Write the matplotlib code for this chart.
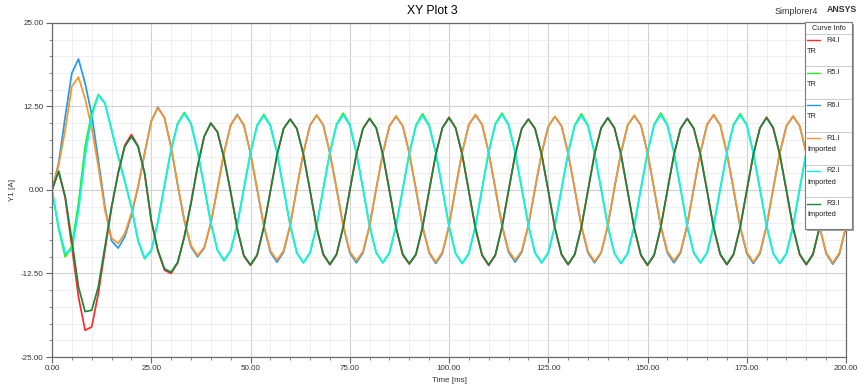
import numpy as np
import matplotlib.pyplot as plt
from matplotlib.patches import Rectangle
from matplotlib.lines import Line2D
from matplotlib.ticker import MultipleLocator, FormatStrFormatter

plt.rcParams['font.family'] = ['Liberation Sans', 'DejaVu Sans']

# sample times (ms), one sample every 1/12 of a 20 ms period
time_ms = np.linspace(0, 200, 121)

# TR results
r4_tr = [0, 2.8, -1.2, -8.5, -16.0, -21.0, -20.5, -15.5, -9.0, -2.7, 2.6, 6.7, 8.3,
         6.6, 2.5, -4.6, -9.1, -12.0, -12.5, -10.9, -7.0, -2.0, 3.5, 8.0, 10.0,
         8.7, 4.8, -0.3, -5.8, -9.9, -11.3, -9.8, -5.6, -0.2, 5.2, 9.2, 10.6,
         9.2, 5.3, -0.1, -5.7, -9.7, -11.2, -9.7, -5.6, -0.1, 5.3, 9.2, 10.7,
         9.3, 5.3, -0.1, -5.7, -9.7, -11.1, -9.7, -5.6, -0.1, 5.3, 9.3, 10.9,
         9.3, 5.3, -0.2, -5.8, -9.8, -11.3, -9.8, -5.6, -0.1, 5.3, 9.2, 10.6,
         9.2, 5.3, -0.1, -5.7, -9.7, -11.2, -9.7, -5.6, -0.1, 5.4, 9.3, 10.8,
         9.3, 5.3, -0.2, -5.8, -9.8, -11.3, -9.8, -5.6, -0.1, 5.3, 9.2, 10.7,
         9.2, 5.3, -0.1, -5.7, -9.7, -11.2, -9.7, -5.6, -0.1, 5.3, 9.3, 10.9,
         9.3, 5.3, -0.1, -5.7, -9.7, -11.2, -9.7, -5.6, -0.1, 5.3, 9.2, 10.7]
r5_tr = [0, -5.8, -10.0, -8.4, -2.0, 6.5, 11.5, 14.3, 13.0, 9.0, 5.0, 1.3, -2.6,
         -7.6, -10.3, -9.1, -4.8, 0.7, 6.1, 10.0, 11.6, 10.0, 5.8, 0.5, -4.9,
         -9.0, -10.6, -9.1, -5.2, 0.2, 5.6, 9.7, 11.3, 9.7, 5.6, 0.2, -5.3,
         -9.4, -10.9, -9.4, -5.4, 0.2, 5.6, 9.8, 11.5, 9.8, 5.6, 0.2, -5.4,
         -9.4, -10.9, -9.4, -5.4, 0.1, 5.5, 9.7, 11.4, 9.7, 5.6, 0.2, -5.4,
         -9.5, -11.0, -9.5, -5.4, 0.2, 5.7, 9.9, 11.5, 9.8, 5.6, 0.2, -5.3,
         -9.4, -10.9, -9.4, -5.4, 0.1, 5.5, 9.7, 11.4, 9.7, 5.5, 0.1, -5.4,
         -9.5, -11.0, -9.5, -5.4, 0.2, 5.6, 9.8, 11.5, 9.8, 5.6, 0.2, -5.4,
         -9.4, -10.9, -9.4, -5.3, 0.2, 5.6, 9.8, 11.4, 9.8, 5.5, 0.1, -5.4,
         -9.5, -11.0, -9.5, -5.4, 0.2, 5.6, 9.8, 11.5, 9.8, 5.6, 0.2, -5.3]
r6_tr = [0, 4.0, 11.0, 17.5, 19.6, 16.0, 11.3, 4.5, -2.5, -7.6, -8.7, -7.0, -3.8,
         0.4, 5.5, 10.3, 12.4, 10.8, 6.4, 0.7, -4.6, -8.5, -10.0, -8.7, -5.0,
         0.2, 5.6, 9.7, 11.3, 9.7, 5.5, 0.1, -5.3, -9.3, -10.8, -9.3, -5.3,
         0.3, 5.6, 9.7, 11.2, 9.7, 5.5, 0.2, -5.3, -9.4, -10.9, -9.4, -5.4,
         0.2, 5.5, 9.6, 11.0, 9.6, 5.5, 0.1, -5.5, -9.4, -11.0, -9.5, -5.4,
         0.3, 5.7, 9.8, 11.2, 9.8, 5.6, 0.2, -5.3, -9.3, -10.8, -9.3, -5.3,
         0.2, 5.5, 9.5, 11.0, 9.6, 5.5, 0.1, -5.4, -9.4, -10.9, -9.4, -5.4,
         0.3, 5.6, 9.7, 11.1, 9.7, 5.6, 0.1, -5.4, -9.4, -10.9, -9.4, -5.3,
         0.3, 5.6, 9.8, 11.2, 9.7, 5.5, 0.1, -5.5, -9.5, -11.0, -9.5, -5.4,
         0.2, 5.6, 9.6, 11.0, 9.6, 5.5, 0.1, -5.5, -9.5, -11.1, -9.6, -5.5]

# Imported results
r1_imp = [0, 3.7, 9.0, 15.5, 16.9, 13.7, 9.3, 3.5, -3.0, -7.2, -8.0, -6.5, -3.5,
          0.5, 5.5, 10.3, 12.3, 10.8, 6.5, 0.8, -4.5, -8.3, -9.8, -8.6, -4.9,
          0.2, 5.6, 9.7, 11.2, 9.7, 5.5, 0.2, -5.2, -9.1, -10.5, -9.1, -5.2,
          0.3, 5.6, 9.7, 11.2, 9.7, 5.6, 0.3, -5.2, -9.2, -10.6, -9.2, -5.3,
          0.2, 5.5, 9.6, 11.1, 9.6, 5.5, 0.2, -5.4, -9.3, -10.8, -9.3, -5.3,
          0.3, 5.7, 9.8, 11.3, 9.8, 5.6, 0.3, -5.2, -9.1, -10.5, -9.1, -5.2,
          0.2, 5.5, 9.5, 11.0, 9.6, 5.5, 0.2, -5.3, -9.2, -10.7, -9.3, -5.3,
          0.3, 5.6, 9.7, 11.2, 9.7, 5.6, 0.2, -5.3, -9.2, -10.6, -9.2, -5.2,
          0.3, 5.7, 9.8, 11.3, 9.7, 5.5, 0.2, -5.4, -9.3, -10.8, -9.3, -5.3,
          0.2, 5.6, 9.6, 11.1, 9.6, 5.5, 0.2, -5.4, -9.4, -10.9, -9.4, -5.4]
r2_imp = [0, -5.5, -9.4, -9.0, -3.2, 5.0, 11.0, 14.2, 13.0, 9.0, 5.0, 1.3, -2.5,
          -7.5, -10.2, -9.0, -4.8, 0.6, 6.0, 9.9, 11.4, 9.9, 5.8, 0.5, -4.9,
          -9.0, -10.5, -9.1, -5.2, 0.2, 5.6, 9.6, 11.1, 9.6, 5.6, 0.2, -5.3,
          -9.4, -10.9, -9.4, -5.4, 0.2, 5.6, 9.7, 11.2, 9.7, 5.6, 0.2, -5.4,
          -9.4, -10.9, -9.4, -5.4, 0.1, 5.5, 9.6, 11.1, 9.6, 5.6, 0.2, -5.4,
          -9.5, -11.0, -9.5, -5.4, 0.2, 5.7, 9.8, 11.3, 9.7, 5.6, 0.2, -5.3,
          -9.4, -10.9, -9.4, -5.4, 0.1, 5.5, 9.6, 11.1, 9.6, 5.5, 0.1, -5.4,
          -9.5, -11.0, -9.5, -5.4, 0.2, 5.6, 9.7, 11.2, 9.7, 5.6, 0.2, -5.4,
          -9.4, -10.9, -9.4, -5.3, 0.2, 5.6, 9.7, 11.2, 9.7, 5.5, 0.1, -5.4,
          -9.5, -11.0, -9.5, -5.4, 0.2, 5.6, 9.7, 11.2, 9.7, 5.6, 0.2, -5.3]
r3_imp = [0, 2.8, -1.0, -7.5, -14.5, -18.2, -18.0, -14.5, -8.5, -2.5, 2.5, 6.5, 8.0,
          6.5, 2.5, -4.5, -9.0, -11.8, -12.3, -10.8, -7.0, -2.0, 3.5, 8.0, 10.0,
          8.7, 4.8, -0.3, -5.8, -9.8, -11.2, -9.7, -5.6, -0.2, 5.2, 9.2, 10.6,
          9.2, 5.3, -0.1, -5.6, -9.6, -11.1, -9.6, -5.6, -0.1, 5.3, 9.2, 10.7,
          9.3, 5.3, -0.1, -5.6, -9.6, -11.0, -9.6, -5.6, -0.1, 5.3, 9.3, 10.8,
          9.3, 5.3, -0.2, -5.7, -9.7, -11.2, -9.7, -5.6, -0.1, 5.3, 9.2, 10.6,
          9.2, 5.3, -0.1, -5.6, -9.6, -11.1, -9.6, -5.6, -0.1, 5.4, 9.3, 10.8,
          9.3, 5.3, -0.2, -5.7, -9.7, -11.2, -9.7, -5.6, -0.1, 5.3, 9.2, 10.7,
          9.2, 5.3, -0.1, -5.6, -9.6, -11.1, -9.6, -5.6, -0.1, 5.3, 9.3, 10.8,
          9.3, 5.3, -0.1, -5.6, -9.6, -11.1, -9.6, -5.6, -0.1, 5.3, 9.2, 10.7]

curves = [
    ("R4.I", "TR", r4_tr, "#ff2a2a"),
    ("R5.I", "TR", r5_tr, "#22f022"),
    ("R6.I", "TR", r6_tr, "#1e9bef"),
    ("R1.I", "Imported", r1_imp, "#ff9326"),
    ("R2.I", "Imported", r2_imp, "#12f0f0"),
    ("R3.I", "Imported", r3_imp, "#17873a"),
]

W, H = 865, 389
fig = plt.figure(figsize=(W / 100, H / 100), dpi=100)
ax = fig.add_axes([52 / W, 1 - 357 / H, 794 / W, 334 / H])

for name, src, vals, col in curves:
    ax.plot(time_ms, vals, color=col, lw=1.25)

ax.set_xlim(0, 200)
ax.set_ylim(-25, 25)
ax.xaxis.set_major_locator(MultipleLocator(25))
ax.xaxis.set_minor_locator(MultipleLocator(5))
ax.yaxis.set_major_locator(MultipleLocator(12.5))
ax.yaxis.set_minor_locator(MultipleLocator(2.5))
ax.xaxis.set_major_formatter(FormatStrFormatter('%.2f'))
ax.yaxis.set_major_formatter(FormatStrFormatter('%.2f'))
ax.grid(which='major', color='#d2d2d2', lw=0.8)
ax.grid(which='minor', color='#ececec', lw=0.6)
ax.set_axisbelow(True)
ax.tick_params(which='major', direction='out', length=4, color='#666666',
               labelsize=5.8, labelcolor='#333333', pad=2)
ax.tick_params(which='minor', direction='out', length=2.5, color='#777777')
for s in ax.spines.values():
    s.set_color('#6a6a6a')
    s.set_linewidth(0.9)

fig.text(432 / W, 1 - 11 / H, "XY Plot 3", ha='center', va='center', fontsize=8.8)
fig.text(818 / W, 1 - 11 / H, "Simplorer4", ha='right', va='center', fontsize=6.4, color='#333333')
fig.text(827 / W, 1 - 10 / H, "ANSYS", ha='left', va='center', fontsize=6.3,
         fontweight='bold', color='#333333')
fig.text(449 / W, 1 - 380 / H, "Time [ms]", ha='center', va='center', fontsize=5.8, color='#333333')
fig.text(13 / W, 1 - 190 / H, "Y1 [A]", ha='center', va='center', rotation=90,
         fontsize=5.8, color='#333333')

# curve info box
def fp(x, y):
    return (x / W, 1 - y / H)

fig.add_artist(Rectangle(fp(807, 231), 47 / W, 207 / H, transform=fig.transFigure,
                         facecolor='#a0a0a0', edgecolor='none', zorder=10))
fig.add_artist(Rectangle(fp(805, 229), 47 / W, 207 / H, transform=fig.transFigure,
                         facecolor='white', edgecolor='#7a7a7a', lw=0.8, zorder=11))
fig.text(828.5 / W, 1 - 28.5 / H, "Curve Info", ha='center', va='center',
         fontsize=5.3, color='#222222', zorder=12)
for sy in [33.5, 66, 99, 132, 164.5, 197]:
    fig.add_artist(Line2D([806 / W, 851 / W], [1 - sy / H, 1 - sy / H],
                          transform=fig.transFigure, color='#cccccc', lw=0.7, zorder=12))
for i, (name, src, vals, col) in enumerate(curves):
    y0 = 40 + i * 32.7
    fig.add_artist(Line2D([807 / W, 820 / W], [1 - y0 / H, 1 - y0 / H],
                          transform=fig.transFigure, color=col, lw=1.0, zorder=12))
    fig.text(826.5 / W, 1 - y0 / H, name, ha='left', va='center', fontsize=5.3,
             color='#222222', zorder=12)
    fig.text(807 / W, 1 - (y0 + 11.5) / H, src, ha='left', va='center', fontsize=5.3,
             color='#222222', zorder=12)

fig.savefig("out.png", dpi=100)
